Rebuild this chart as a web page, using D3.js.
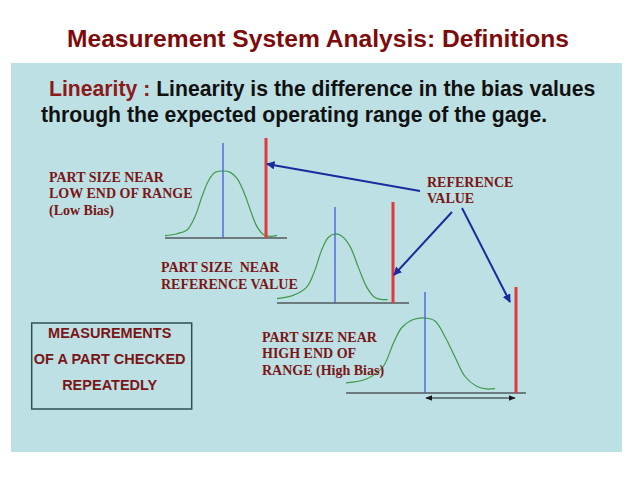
<!DOCTYPE html>
<html>
<head>
<meta charset="utf-8">
<script src="https://cdn.jsdelivr.net/npm/d3@7/dist/d3.min.js"></script>
<style>
  html, body { margin: 0; padding: 0; background: #ffffff; }
  svg { display: block; }
</style>
</head>
<body>
<script>
// ---------- data ----------
const titleText = "Measurement System Analysis: Definitions";
const defTerm = "Linearity :";
const defLine1 = " Linearity is the difference in the bias values";
const defLine2 = "through the expected operating range of the gage.";

// observed means and reference values for the three parts (diagram units)
const means = [223, 335, 425];
const refs  = [266, 393, 516];

// measurement distribution shapes: [offset from mean, relative height]
const curveLow = [[-58,0.035],[-46,0.064],[-36,0.12],[-28,0.32],[-21,0.62],[-14,0.87],[-7.7,0.98],[0,1],[7.3,0.98],[14,0.89],[20.7,0.69],[27.3,0.42],[34,0.17],[40.7,0.05],[47.3,0.025],[54,0.04]];
const curveRef = [[-58,0.063],[-42,0.11],[-28.3,0.23],[-20,0.48],[-13.3,0.77],[-6.7,0.95],[0,1],[6.7,0.97],[15,0.82],[23.3,0.52],[31.7,0.23],[40,0.078],[46.7,0.05],[52.7,0.05]];
const curveHigh = [[-79,0.135],[-58,0.19],[-42,0.35],[-31.7,0.66],[-23.3,0.87],[-11.7,0.98],[0,1],[10,0.96],[20,0.75],[30,0.48],[40,0.22],[51.7,0.09],[61.7,0.054],[70,0.058]];
const curves = [curveLow, curveRef, curveHigh];

const partLabels = [
  ["PART SIZE NEAR", "LOW END OF RANGE", "(Low Bias)"],
  ["PART SIZE  NEAR", "REFERENCE VALUE"],
  ["PART SIZE NEAR", "HIGH END OF", "RANGE (High Bias)"]
];
const refLabel = ["REFERENCE", "VALUE"];
const boxLines = ["MEASUREMENTS", "OF A PART CHECKED", "REPEATEDLY"];

// ---------- layout ----------
const W = 638, H = 478;
const panel = {x: 11, y: 63, w: 611, h: 389};
const dist = [
  {base: 238, peak: 171, blueTop: 143, redTop: 138, axis: [165, 287], label: {x: 49, ys: [182, 198, 215]}},
  {base: 303, peak: 234, blueTop: 207, redTop: 202, axis: [277, 409], label: {x: 161, ys: [272, 289]}},
  {base: 393, peak: 318, blueTop: 292, redTop: 287, axis: [346, 526], label: {x: 262, ys: [342, 358, 375]}}
];
const refLabelPos = {x: 427, ys: [187, 203]};
const arrowTails = [[420, 191], [452, 212], [462, 208]];
const arrowTipY = [164, 275, 302];
const arrowTipDx = [1, 1, -6];
const box = {x: 31.7, y: 323, w: 160, h: 86, ys: [338, 364, 390]};
const biasArrowY = 398;

const C = {
  panel: "#bde0e4",
  title: "#7d0b0b",
  term: "#8b1a1a",
  label: "#7a1616",
  blue: "#3f5ddc",
  red: "#e5383a",
  green: "#3f9a47",
  axis: "#505a5c",
  arrow: "#1d2a9e",
  boxStroke: "#2f4f55"
};

const svg = d3.select("body").append("svg")
  .attr("width", W).attr("height", H)
  .attr("viewBox", `0 0 ${W} ${H}`);

const x = d3.scaleLinear().domain([0, W]).range([0, W]);

const defs = svg.append("defs");
defs.append("marker").attr("id", "ah")
  .attr("viewBox", "0 0 10 10").attr("refX", 9).attr("refY", 5)
  .attr("markerWidth", 4.2).attr("markerHeight", 4.2).attr("orient", "auto")
  .append("path").attr("d", "M0,0 L10,5 L0,10 z").attr("fill", C.arrow);
defs.append("marker").attr("id", "bh")
  .attr("viewBox", "0 0 10 10").attr("refX", 9).attr("refY", 5)
  .attr("markerWidth", 6).attr("markerHeight", 6).attr("orient", "auto-start-reverse")
  .append("path").attr("d", "M0,1 L10,5 L0,9 z").attr("fill", "#1a1a1a");

// title
svg.append("text")
  .attr("x", 318).attr("y", 47)
  .attr("text-anchor", "middle")
  .attr("font-family", "Liberation Sans, Arial, sans-serif")
  .attr("font-weight", "bold").attr("font-size", 24.6)
  .attr("fill", C.title)
  .text(titleText);

// panel
svg.append("rect")
  .attr("x", panel.x).attr("y", panel.y)
  .attr("width", panel.w).attr("height", panel.h)
  .attr("fill", C.panel);

// definition text
const def = svg.append("g")
  .attr("font-family", "Liberation Sans, Arial, sans-serif")
  .attr("font-weight", "bold").attr("font-size", 21.2);
const t1 = def.append("text").attr("x", 49).attr("y", 95.5);
t1.append("tspan").attr("fill", C.term).text(defTerm);
t1.append("tspan").attr("fill", "#111").text(defLine1);
def.append("text").attr("x", 41).attr("y", 122).attr("fill", "#111").text(defLine2);

// distributions
dist.forEach((d, i) => {
  const y = d3.scaleLinear().domain([0, 1]).range([d.base, d.peak]);
  const g = svg.append("g");
  g.append("line")
    .attr("x1", x(d.axis[0])).attr("x2", x(d.axis[1]))
    .attr("y1", d.base).attr("y2", d.base)
    .attr("stroke", C.axis).attr("stroke-width", 1.6);
  const line = d3.line()
    .x(p => x(means[i] + p[0]))
    .y(p => y(p[1]))
    .curve(d3.curveCatmullRom.alpha(0.5));
  g.append("path").attr("d", line(curves[i]))
    .attr("fill", "none").attr("stroke", C.green).attr("stroke-width", 1.2);
  g.append("line")
    .attr("x1", x(means[i])).attr("x2", x(means[i]))
    .attr("y1", d.blueTop).attr("y2", d.base)
    .attr("stroke", C.blue).attr("stroke-width", 1.3);
  g.append("line")
    .attr("x1", x(refs[i])).attr("x2", x(refs[i]))
    .attr("y1", d.redTop).attr("y2", d.base)
    .attr("stroke", C.red).attr("stroke-width", 3);
  const lt = g.append("g")
    .attr("font-family", "Liberation Serif, 'Times New Roman', serif")
    .attr("font-weight", "bold").attr("font-size", 14)
    .attr("fill", C.label);
  partLabels[i].forEach((s, k) => {
    lt.append("text").attr("x", d.label.x).attr("y", d.label.ys[k])
      .attr("xml:space", "preserve").style("white-space", "pre").text(s);
  });
  g.append("line")
    .attr("x1", arrowTails[i][0]).attr("y1", arrowTails[i][1])
    .attr("x2", x(refs[i]) + arrowTipDx[i]).attr("y2", arrowTipY[i])
    .attr("stroke", C.arrow).attr("stroke-width", 2)
    .attr("marker-end", "url(#ah)");
});

// reference value label
const rl = svg.append("g")
  .attr("font-family", "Liberation Serif, 'Times New Roman', serif")
  .attr("font-weight", "bold").attr("font-size", 14)
  .attr("fill", C.label);
refLabel.forEach((s, k) => {
  rl.append("text").attr("x", refLabelPos.x).attr("y", refLabelPos.ys[k]).text(s);
});

// bias double arrow
svg.append("line")
  .attr("x1", x(means[2]) + 1).attr("x2", x(refs[2]) - 1)
  .attr("y1", biasArrowY).attr("y2", biasArrowY)
  .attr("stroke", "#1a1a1a").attr("stroke-width", 1.2)
  .attr("marker-start", "url(#bh)").attr("marker-end", "url(#bh)");

// measurements box
svg.append("rect")
  .attr("x", box.x).attr("y", box.y).attr("width", box.w).attr("height", box.h)
  .attr("fill", "none").attr("stroke", C.boxStroke).attr("stroke-width", 1.5);
const bt = svg.append("g")
  .attr("font-family", "Liberation Sans, Arial, sans-serif")
  .attr("font-weight", "bold").attr("font-size", 14.5)
  .attr("fill", C.label).attr("text-anchor", "middle");
boxLines.forEach((s, k) => {
  bt.append("text").attr("x", box.x + box.w / 2 - 2).attr("y", box.ys[k]).text(s);
});
</script>
</body>
</html>
